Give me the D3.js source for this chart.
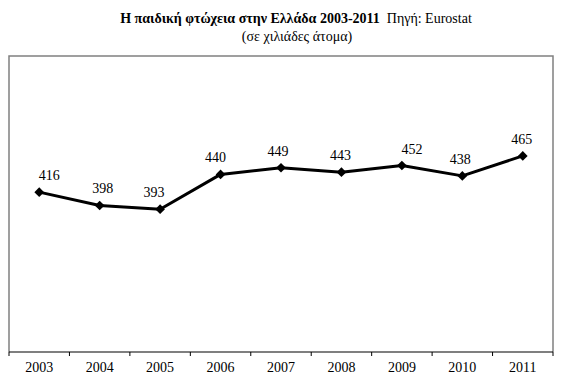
<!DOCTYPE html>
<html>
<head>
<meta charset="utf-8">
<script src="https://cdn.jsdelivr.net/npm/d3@7"></script>
<style>
  body { margin: 0; background: #fff; }
</style>
</head>
<body>
<svg id="chart"></svg>
<script>
// Child poverty in Greece, thousands of persons
const years = ['2003', '2004', '2005', '2006', '2007', '2008', '2009', '2010', '2011'];
const values = [416, 398, 393, 440, 449, 443, 452, 438, 465];
// horizontal nudges of the data labels, as in the original
const labelDx = [10, 3, -6, -5, -3, -1, 10, -2, -1];

const width = 563, height = 386;
const margin = {top: 56, right: 10, bottom: 34, left: 9};
const serif = "'Times New Roman', 'Liberation Serif', 'DejaVu Serif', serif";

const svg = d3.select('#chart')
    .attr('width', width)
    .attr('height', height)
    .style('font-family', serif);

const innerW = width - margin.left - margin.right;
const innerH = height - margin.top - margin.bottom;

const chart = svg.append('g')
    .attr('transform', `translate(${margin.left},${margin.top})`);

const xScale = d3.scaleBand()
    .domain(years)
    .range([0, innerW]);

const yScale = d3.scaleLinear()
    .domain([200, 600])
    .range([innerH, 0]);

// Plot frame (grey left/top/right)
chart.append('path')
    .attr('d', `M0,${innerH}V0H${innerW}V${innerH}`)
    .attr('fill', 'none')
    .attr('stroke', '#808080')
    .attr('stroke-width', 1.5);

// Category axis with ticks between the bands
const xAxisG = chart.append('g')
    .attr('transform', `translate(0,${innerH})`);

xAxisG.append('line')
    .attr('x1', 0).attr('x2', innerW)
    .attr('stroke', '#000').attr('stroke-width', 1.2);

const boundaries = years.map(y => xScale(y)).concat([innerW]);
xAxisG.selectAll('.tick')
    .data(boundaries)
  .join('line')
    .attr('class', 'tick')
    .attr('x1', d => d).attr('x2', d => d)
    .attr('y1', 0).attr('y2', 4)
    .attr('stroke', '#000');

xAxisG.selectAll('.year')
    .data(years)
  .join('text')
    .attr('class', 'year')
    .attr('x', d => xScale(d) + xScale.bandwidth() / 2)
    .attr('y', 20)
    .attr('text-anchor', 'middle')
    .style('font-size', '14px')
    .text(d => d);

// Line
const cx = (d, i) => xScale(years[i]) + xScale.bandwidth() / 2;
const line = d3.line()
    .x((d, i) => cx(d, i))
    .y(d => yScale(d));

chart.append('path')
    .datum(values)
    .attr('d', line)
    .attr('fill', 'none')
    .attr('stroke', '#000')
    .attr('stroke-width', 3)
    .attr('stroke-linejoin', 'round');

// Diamond markers
chart.selectAll('.marker')
    .data(values)
  .join('path')
    .attr('class', 'marker')
    .attr('transform', (d, i) => `translate(${cx(d, i)},${yScale(d)})`)
    .attr('d', d3.symbol().type(d3.symbolDiamond2).size(60))
    .attr('fill', '#000');

// Data labels
chart.selectAll('.label')
    .data(values)
  .join('text')
    .attr('class', 'label')
    .attr('x', (d, i) => cx(d, i) + labelDx[i])
    .attr('y', d => yScale(d) - 12)
    .attr('text-anchor', 'middle')
    .style('font-size', '14px')
    .text(d => d);

// Title
const title = svg.append('text')
    .attr('x', 296)
    .attr('y', 23)
    .attr('text-anchor', 'middle')
    .style('font-size', '14px');
title.append('tspan')
    .style('font-weight', 'bold')
    .text('Η παιδική φτώχεια στην Ελλάδα 2003-2011');
title.append('tspan')
    .text('\u00a0 Πηγή: Eurostat');

svg.append('text')
    .attr('x', 297)
    .attr('y', 41)
    .attr('text-anchor', 'middle')
    .style('font-size', '14px')
    .text('(σε χιλιάδες άτομα)');
</script>
</body>
</html>
